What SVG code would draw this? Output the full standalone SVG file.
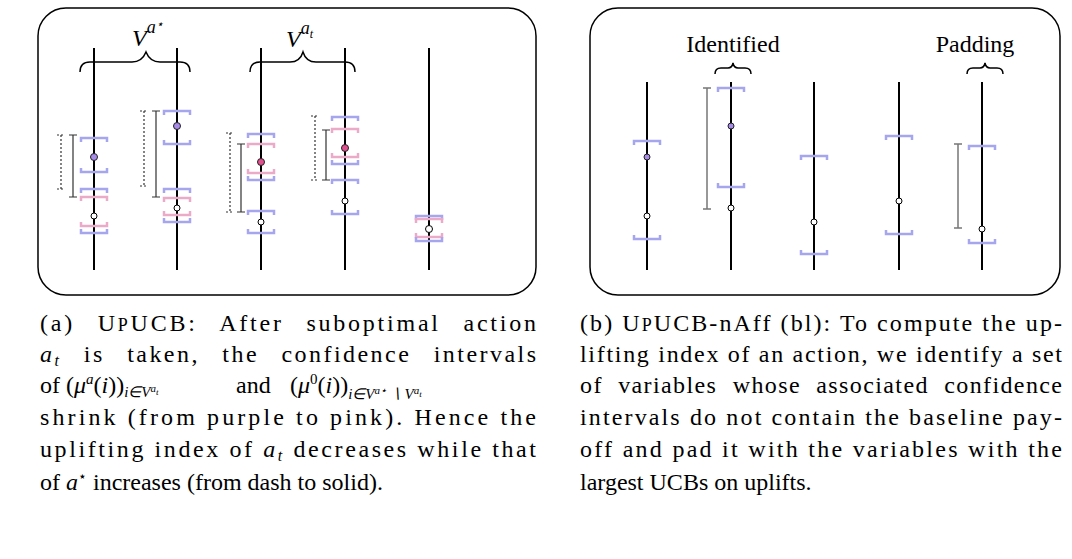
<svg xmlns="http://www.w3.org/2000/svg" width="1072" height="559" viewBox="0 0 1072 559">
<style>
.ax{stroke:#000;stroke-width:2}
.b{fill:none;stroke:#a6a6ee;stroke-width:2.5}
.p{fill:none;stroke:#eaaac8;stroke-width:2.5}
.iv{stroke:#333;stroke-width:1.2;fill:none}
.ivd{stroke:#333;stroke-width:1.2;stroke-dasharray:2,2;fill:none}
.ivg{stroke:#777;stroke-width:1.5;fill:none}
.w{fill:#fff;stroke:#000;stroke-width:1}
.pu{fill:#a78be8;stroke:#222;stroke-width:1}
.pk{fill:#e0508e;stroke:#222;stroke-width:1}
.t{font-family:"Liberation Serif",serif;font-size:24px;fill:#000}
.i{font-style:italic}
.br{fill:none;stroke:#000;stroke-width:1.5}
</style>
<defs>
<path id="bd" d="M-13,4 V0 H13 V4"/>
<path id="bu" d="M-13,-4 V0 H13 V-4"/>
</defs>
<rect x="38" y="8" width="498" height="287" rx="28" fill="#fff" stroke="#000" stroke-width="1.5"/>
<rect x="590" y="8" width="470" height="287" rx="28" fill="#fff" stroke="#000" stroke-width="1.5"/>

<g id="left-panel">
<path class="br" d="M80,72 q0,-10 10,-10 h42 q10,0 14,-10 q4,10 14,10 h20 q10,0 10,10"/>
<text class="t i" x="132" y="46" font-size="32">V<tspan font-size="18" dy="-13">a</tspan><tspan font-size="12" dy="-5">⋆</tspan></text>
<path class="br" d="M250,72 q0,-10 10,-10 h30 q10,0 13,-10 q3,10 13,10 h29 q10,0 10,10"/>
<text class="t i" x="286" y="47" font-size="32">V<tspan font-size="18" dy="-13">a</tspan><tspan font-size="12" dy="4">t</tspan></text>
<g id="l1">
<line class="ax" x1="94" y1="48" x2="94" y2="270"/>
<path class="ivd" d="M57,135 h8 M61,135 V189 M57,189 h8"/>
<path class="iv" d="M69,135 h8 M73,135 V197 M69,197 h8"/>
<use href="#bd" x="94" y="138" class="b"/><use href="#bu" x="94" y="172" class="b"/>
<use href="#bd" x="94" y="189" class="b"/><use href="#bd" x="94" y="197" class="p"/>
<use href="#bu" x="94" y="226" class="p"/><use href="#bu" x="94" y="233" class="b"/>
<circle class="pu" cx="94" cy="157" r="3.5"/><circle class="w" cx="94" cy="216" r="3"/>
</g>
<g id="l2">
<line class="ax" x1="177" y1="48" x2="177" y2="270"/>
<path class="ivd" d="M140,111 h8 M144,111 V186 M140,186 h8"/>
<path class="iv" d="M152,111 h8 M156,111 V197 M152,197 h8"/>
<use href="#bd" x="177" y="111" class="b"/><use href="#bu" x="177" y="144" class="b"/>
<use href="#bd" x="177" y="189" class="b"/><use href="#bd" x="177" y="198" class="p"/>
<use href="#bu" x="177" y="215" class="p"/><use href="#bu" x="177" y="222" class="b"/>
<circle class="pu" cx="177" cy="126" r="3.5"/><circle class="w" cx="177" cy="208" r="3"/>
</g>
<g id="l3">
<line class="ax" x1="261" y1="48" x2="261" y2="270"/>
<path class="ivd" d="M226,133 h8 M230,133 V212 M226,212 h8"/>
<path class="iv" d="M237,144 h8 M241,144 V212 M237,212 h8"/>
<use href="#bd" x="261" y="134" class="b"/><use href="#bd" x="261" y="144" class="p"/>
<use href="#bu" x="261" y="173" class="p"/><use href="#bu" x="261" y="180" class="b"/>
<use href="#bd" x="261" y="211" class="b"/><use href="#bu" x="261" y="233" class="b"/>
<circle class="pk" cx="261" cy="162" r="3.5"/><circle class="w" cx="261" cy="222" r="3"/>
</g>
<g id="l4">
<line class="ax" x1="345" y1="48" x2="345" y2="270"/>
<path class="ivd" d="M311,116 h8 M315,116 V180 M311,180 h8"/>
<path class="iv" d="M322,130 h8 M326,130 V180 M322,180 h8"/>
<use href="#bd" x="345" y="117" class="b"/><use href="#bd" x="345" y="129" class="p"/>
<use href="#bu" x="345" y="157" class="p"/><use href="#bu" x="345" y="164" class="b"/>
<use href="#bd" x="345" y="180" class="b"/><use href="#bu" x="345" y="214" class="b"/>
<circle class="pk" cx="345" cy="148" r="3.5"/><circle class="w" cx="345" cy="201" r="3"/>
</g>
<g id="l5">
<line class="ax" x1="429" y1="48" x2="429" y2="270"/>
<use href="#bd" x="429" y="216" class="b"/><use href="#bd" x="429" y="219" class="p"/>
<use href="#bu" x="429" y="237" class="p"/><use href="#bu" x="429" y="241" class="b"/>
<circle class="w" cx="429" cy="229" r="3.5"/>
</g>
</g>

<g id="right-panel">
<text class="t" x="733" y="52" text-anchor="middle" font-size="27">Identified</text>
<path class="br" d="M715,74 q0,-6 6,-6 h7 q4,0 5,-5 q1,5 5,5 h7 q6,0 6,6" stroke-width="1.2"/>
<text class="t" x="975" y="52" text-anchor="middle" font-size="27">Padding</text>
<path class="br" d="M967,74 q0,-6 6,-6 h7 q4,0 5,-5 q1,5 5,5 h7 q6,0 6,6" stroke-width="1.2"/>
<g id="r1">
<line class="ax" x1="647" y1="82" x2="647" y2="270" stroke-width="1.5"/>
<use href="#bd" x="647" y="141" class="b"/><use href="#bu" x="647" y="239" class="b"/>
<circle class="pu" cx="647" cy="157" r="3"/><circle class="w" cx="647" cy="216" r="3"/>
</g>
<g id="r2">
<line class="ax" x1="731" y1="82" x2="731" y2="270" stroke-width="1.5"/>
<path class="ivg" d="M703,88 h8 M707,88 V209 M703,209 h8"/>
<use href="#bd" x="731" y="88" class="b"/><use href="#bu" x="731" y="187" class="b"/>
<circle class="pu" cx="731" cy="126" r="3"/><circle class="w" cx="731" cy="208" r="3"/>
</g>
<g id="r3">
<line class="ax" x1="814" y1="82" x2="814" y2="270" stroke-width="1.5"/>
<use href="#bd" x="814" y="156" class="b"/><use href="#bu" x="814" y="254" class="b"/>
<circle class="w" cx="814" cy="222" r="3"/>
</g>
<g id="r4">
<line class="ax" x1="899" y1="82" x2="899" y2="270" stroke-width="1.5"/>
<use href="#bd" x="899" y="136" class="b"/><use href="#bu" x="899" y="234" class="b"/>
<circle class="w" cx="899" cy="201" r="3"/>
</g>
<g id="r5">
<line class="ax" x1="982" y1="82" x2="982" y2="270" stroke-width="1.5"/>
<path class="ivg" d="M954,144 h8 M958,144 V228 M954,228 h8"/>
<use href="#bd" x="982" y="146" class="b"/><use href="#bu" x="982" y="243" class="b"/>
<circle class="w" cx="982" cy="229" r="3"/>
</g>
</g>

<g id="captions">
<text class="t" x="40" y="331" textLength="496" lengthAdjust="spacing" word-spacing="14">(a) U<tspan font-size="18">P</tspan>UCB: After suboptimal action</text>
<text class="t" x="40" y="362" textLength="496" lengthAdjust="spacing" word-spacing="14"><tspan class="i">a</tspan><tspan class="i" font-size="16" dy="4">t</tspan><tspan dy="-4"> is taken, the confidence intervals</tspan></text>
<text class="t" y="393"><tspan x="40">of</tspan><tspan x="66">(</tspan><tspan class="i">μ</tspan><tspan font-size="15" dy="-9" class="i">a</tspan><tspan dy="9">(</tspan><tspan class="i">i</tspan><tspan>))</tspan><tspan class="i" font-size="15" dy="4">i∈V<tspan font-size="11" dy="-5">a</tspan><tspan font-size="9" dy="3">t</tspan></tspan><tspan x="236" dy="-2">and</tspan><tspan x="290">(</tspan><tspan class="i">μ</tspan><tspan font-size="15" dy="-9">0</tspan><tspan dy="9">(</tspan><tspan class="i">i</tspan><tspan>))</tspan><tspan class="i" font-size="15" dy="6">i∈V<tspan font-size="11" dy="-5">a⋆</tspan><tspan dy="5"> ∖ V</tspan><tspan font-size="11" dy="-5">a</tspan><tspan font-size="9" dy="3">t</tspan></tspan></text>
<text class="t" x="40" y="425" textLength="496" lengthAdjust="spacing">shrink (from purple to pink). Hence the</text>
<text class="t" x="40" y="457" textLength="496" lengthAdjust="spacing">uplifting index of <tspan class="i">a</tspan><tspan class="i" font-size="16" dy="4">t</tspan><tspan dy="-4"> decreases while that</tspan></text>
<text class="t" x="40" y="490">of <tspan class="i">a</tspan><tspan font-size="14" dy="-9">⋆</tspan><tspan dy="9"> increases (from dash to solid).</tspan></text>

<text class="t" x="580" y="331" textLength="482" lengthAdjust="spacing">(b) U<tspan font-size="18">P</tspan>UCB-nAff (bl): To compute the up-</text>
<text class="t" x="580" y="362" textLength="482" lengthAdjust="spacing">lifting index of an action, we identify a set</text>
<text class="t" x="580" y="393" textLength="482" lengthAdjust="spacing" word-spacing="8">of variables whose associated confidence</text>
<text class="t" x="580" y="425" textLength="482" lengthAdjust="spacing">intervals do not contain the baseline pay-</text>
<text class="t" x="580" y="457" textLength="482" lengthAdjust="spacing">off and pad it with the variables with the</text>
<text class="t" x="580" y="490">largest UCBs on uplifts.</text>
</g>
</svg>
